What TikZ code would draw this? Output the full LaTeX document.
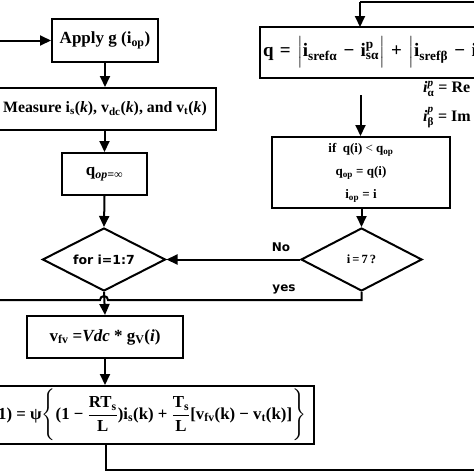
\documentclass[tikz,border=0pt]{standalone}
\usepackage{amsmath}
\usepackage{fontspec}
\setmainfont{Liberation Serif}
\newfontfamily\labfont{DejaVu Sans}
\usetikzlibrary{arrows.meta,shapes.geometric}
\newcommand\modeltext{i\textsubscript{s}(k+1) = ψ$\displaystyle\Biggl\lbrace$(1 − $\displaystyle\frac{\text{\bfseries RT\textsubscript{s}}}{\text{\bfseries L}}$)i\textsubscript{s}(k) + $\displaystyle\frac{\text{\bfseries T\textsubscript{s}}}{\text{\bfseries L}}$[v\textsubscript{fv}(k) − v\textsubscript{t}(k)]$\displaystyle\Biggr\rbrace$}
\newcommand\qtext{q = $\Bigl|$i\textsubscript{srefα} − i$^{\text{\bfseries p}}_{\text{\bfseries sα}}$$\Bigr|$ + $\Bigl|$i\textsubscript{srefβ} − i$^{\text{\bfseries p}}_{\text{\bfseries sβ}}$$\Bigr|$}
\tikzset{
  boxnode/.style={draw,line width=2pt,inner sep=2pt,font=\bfseries\fontsize{15}{18}\selectfont},
  decnode/.style={draw,diamond,aspect=2,inner sep=0pt,line width=2pt},
  conn/.style={line width=2pt},
  arr/.style={conn,-{Triangle[length=11pt,width=10pt]}},
  lbl/.style={font=\labfont\bfseries\fontsize{12}{14}\selectfont,inner sep=0pt}
}
\begin{document}
\begin{tikzpicture}[x=1pt,y=-1pt]
\useasboundingbox (0,0) rectangle (474,474);
\clip (0,0) rectangle (474,474);
\fill[white] (0,0) rectangle (474,474);

% left column
\node[boxnode,minimum width=106pt,minimum height=43pt,font=\bfseries\fontsize{17}{20}\selectfont] (apply) at (105,40.5) {Apply g (i\textsubscript{op})};
\node[boxnode,minimum width=222pt,minimum height=42pt,font=\bfseries\fontsize{15.8}{18}\selectfont] (measure) at (105,109) {Measure i\textsubscript{s}(\textit{k}), v\textsubscript{dc}(\textit{k}), and v\textsubscript{t}(\textit{k})};
\node[boxnode,minimum width=85pt,minimum height=42pt,font=\bfseries\fontsize{17}{20}\selectfont] (qop) at (104.5,174) {q\textsubscript{\itshape op=∞}};
\node[decnode,minimum width=123pt,minimum height=63pt,font=\labfont\bfseries\fontsize{12.5}{14}\selectfont] (for) at (104,259.5) {for i=1:7};
\node[boxnode,minimum width=156pt,minimum height=42pt,font=\bfseries\fontsize{17}{20}\selectfont] (vfv) at (105,337) {v\textsubscript{fv} =\textit{Vdc} * g\textsubscript{V}(\textit{i})};
\node[boxnode,minimum width=358pt,minimum height=58pt,font=\bfseries\fontsize{16.8}{19}\selectfont] (model) at (135,415) {\modeltext};

% right column
\node[boxnode,minimum height=51pt,anchor=west,inner sep=3pt,text width=340pt,align=left,font=\bfseries\fontsize{19}{22}\selectfont] (q) at (259,52.5) {\qtext};
\node[anchor=west,inner sep=0pt,font=\bfseries\fontsize{16}{19}\selectfont] (rea) at (423,89) {\textit{i}$^{\text{\bfseries\itshape p}}_{\text{α}}$ = Re};
\node[anchor=west,inner sep=0pt,font=\bfseries\fontsize{16}{19}\selectfont] (imb) at (423,118) {\textit{i}$^{\text{\bfseries\itshape p}}_{\text{β}}$ = Im};
\node[boxnode,minimum width=178pt,minimum height=71pt,align=center,font=\bfseries\fontsize{13}{23}\selectfont] (if) at (361,172.5) {if\ \ q(i) {\normalfont<} q\textsubscript{op}\\ q\textsubscript{op} = q(i)\\ i\textsubscript{op} = i};
\node[decnode,minimum width=121pt,minimum height=63pt,font=\bfseries\fontsize{12.5}{14}\selectfont] (i7) at (361.5,259.5) {i\,=\,7\,?};

\node[lbl] (no) at (281,247) {No};
\node[lbl] (yes) at (284,289) {yes};

% helper coordinates
\coordinate (leftin) at (-5,40.5);
\coordinate (topR) at (480,2);
\coordinate (topL) at (360,2);
\coordinate (qin) at (360,27);
\coordinate (qout) at (360.5,95);
\coordinate (yesL) at (-5,300);
\coordinate (botR) at (480,470);
\coordinate (botL) at (106,470);
\coordinate (hopR) at (108,300);

% connectors
\draw[arr] (leftin) -- (apply.west);
\draw[arr] (apply.south) -- (apply.south |- measure.north);
\draw[arr] (measure.south -| qop.north) -- (qop.north);
\draw[arr] (qop.south) -- (for.north);
\draw[arr] (for.south) -- (vfv.north);
\draw[arr] (vfv.south) -- (vfv.south |- model.north);
\draw[conn] (model.south -| botL) -- (botL) -- (botR);
\draw[conn] (topR) -- (topL);
\draw[arr] (topL) -- (qin);
\draw[arr] (qout) -- (qout |- if.north);
\draw[arr] (if.south -| i7.north) -- (i7.north);
\draw[arr] (i7.west) -- (for.east);
\draw[conn] (i7.south) -- (i7.south |- yesL) -- (hopR) arc (0:-180:4) -- (yesL);
\end{tikzpicture}
\end{document}
